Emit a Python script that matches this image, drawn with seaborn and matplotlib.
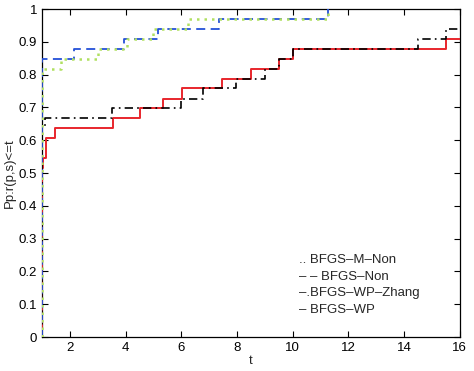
import matplotlib
matplotlib.use("Agg")
import matplotlib.pyplot as plt
import seaborn as sns
import pandas as pd

# performance profile breakpoints (t) and fraction of problems solved
t_m_non = [1, 1, 1.7, 3.02, 4.04, 5.0, 6.25, 11.27]
p_m_non = [0, 0.818, 0.848, 0.879, 0.909, 0.939, 0.970, 1.0]

t_non = [1, 1, 2.16, 3.95, 5.15, 7.35, 11.27]
p_non = [0, 0.848, 0.879, 0.909, 0.939, 0.970, 1.0]

t_zhang = [1, 1, 1.1, 3.5, 6.0, 6.78, 7.98, 9.0, 9.52, 10.02, 14.5, 15.5, 16]
p_zhang = [0, 0.636, 0.667, 0.697, 0.727, 0.758, 0.788, 0.818, 0.848, 0.879, 0.909, 0.939, 0.939]

t_wp = [1, 1, 1.05, 1.15, 1.47, 3.55, 4.52, 5.36, 6.01, 7.48, 8.5, 9.52, 10.02, 15.5, 16]
p_wp = [0, 0.515, 0.545, 0.606, 0.636, 0.667, 0.697, 0.727, 0.758, 0.788, 0.818, 0.848, 0.879, 0.909, 0.909]

labels = [".. BFGS\u2013M\u2013Non", "\u2013 \u2013 BFGS\u2013Non",
          "\u2013.BFGS\u2013WP\u2013Zhang", "\u2013 BFGS\u2013WP"]

sns.set_style("ticks")
plt.rcParams["font.family"] = ["Liberation Sans", "DejaVu Sans"]
plt.rcParams["font.size"] = 9.5

fig = plt.figure(figsize=(4.74, 3.71), dpi=100)
ax = fig.add_axes([0.0886, 0.0916, 0.8814, 0.884])

series = [
    (t_wp, p_wp, "#e8262c", None, 1.4),
    (t_zhang, p_zhang, "black", (5, 2.5, 1, 2.5), 1.2),
    (t_non, p_non, "#2450d8", (5, 3), 1.3),
    (t_m_non, p_m_non, "#b0e060", (1, 2), 1.8),
]
handles = []
for t, p, color, dash, lw in series:
    df = pd.DataFrame({"t": t, "p": p})
    sns.lineplot(data=df, x="t", y="p", estimator=None, sort=False, ax=ax,
                 color=color, lw=lw, drawstyle="steps-post")
    line = ax.lines[-1]
    if dash is not None:
        line.set_dashes(dash)
    line.set_zorder(3)
    handles.append(line)
handles = handles[::-1]

ax.set_xlim(1, 16)
ax.set_ylim(0, 1)
ax.set_xticks(range(2, 17, 2))
ax.set_yticks([i / 10 for i in range(11)])
ax.set_yticklabels(["0", "0.1", "0.2", "0.3", "0.4", "0.5", "0.6", "0.7", "0.8", "0.9", "1"])
ax.tick_params(direction="in", top=True, right=True, length=4, width=0.8, colors="black")
for s in ax.spines.values():
    s.set_linewidth(0.9)
    s.set_color("black")
ax.set_xlabel("t", labelpad=1)
ax.set_ylabel("Pp:r(p,s)<=t", labelpad=2)

ax.legend(handles, labels, loc="upper left", bbox_to_anchor=(0.6, 0.275),
          frameon=False, handlelength=0, handletextpad=0, borderpad=0,
          labelspacing=0.35, fontsize=9.5)

fig.savefig("out.png", dpi=100)
